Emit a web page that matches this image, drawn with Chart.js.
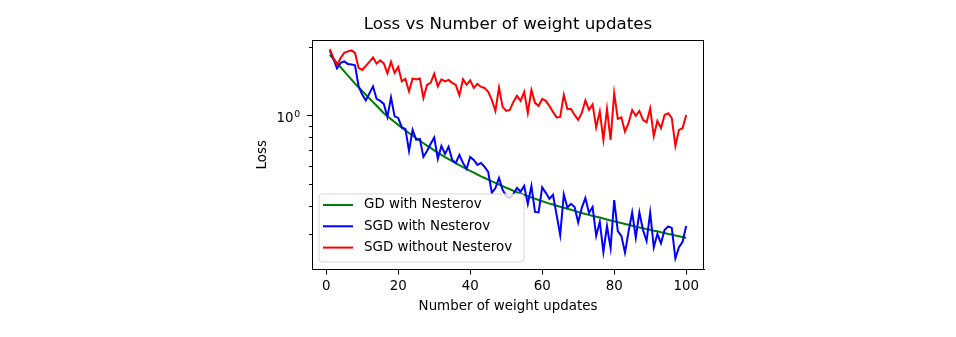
<!DOCTYPE html>
<html>
<head>
<meta charset="utf-8">
<script src="https://cdn.jsdelivr.net/npm/chart.js@4.4.1/dist/chart.umd.min.js"></script>
<style>
    html, body { margin: 0; padding: 0; background: #fff; }
    canvas { display: block; }
</style>
</head>
<body>
<canvas id="loss-chart" width="956" height="337"></canvas>
<script>
var chartTitle = 'Loss vs Number of weight updates';
var updates = Array.from({ length: 100 }, function (_, i) { return i + 1 });

var gdNesterov = [
    1.840, 1.766, 1.694, 1.625, 1.559, 1.496, 1.435, 1.377, 1.326, 1.277,
    1.230, 1.185, 1.142, 1.100, 1.059, 1.020, 0.990, 0.961, 0.934, 0.907,
    0.882, 0.858, 0.835, 0.814, 0.792, 0.773, 0.753, 0.735, 0.718, 0.701,
    0.685, 0.670, 0.655, 0.641, 0.628, 0.615, 0.603, 0.592, 0.580, 0.569,
    0.559, 0.549, 0.539, 0.530, 0.521, 0.512, 0.504, 0.496, 0.488, 0.480,
    0.473, 0.466, 0.459, 0.453, 0.447, 0.441, 0.435, 0.430, 0.424, 0.419,
    0.414, 0.409, 0.405, 0.400, 0.396, 0.392, 0.388, 0.384, 0.380, 0.376,
    0.372, 0.368, 0.365, 0.361, 0.358, 0.355, 0.352, 0.348, 0.345, 0.342,
    0.339, 0.336, 0.333, 0.330, 0.327, 0.324, 0.321, 0.319, 0.316, 0.314,
    0.311, 0.309, 0.306, 0.304, 0.301, 0.299, 0.296, 0.294, 0.292, 0.289
];

var sgdNesterov = [
    1.917, 1.768, 1.606, 1.697, 1.723, 1.680, 1.672, 1.655, 1.339, 1.234,
    1.161, 1.247, 1.339, 1.179, 1.156, 1.121, 0.983, 1.197, 0.988, 0.973,
    0.884, 0.871, 0.697, 0.862, 0.779, 0.787, 0.656, 0.697, 0.748, 0.799,
    0.643, 0.733, 0.676, 0.726, 0.636, 0.617, 0.669, 0.617, 0.581, 0.656,
    0.636, 0.605, 0.617, 0.593, 0.563, 0.456, 0.479, 0.530, 0.470, 0.442,
    0.433, 0.451, 0.479, 0.462, 0.489, 0.408, 0.489, 0.376, 0.374, 0.482,
    0.456, 0.429, 0.447, 0.365, 0.298, 0.449, 0.393, 0.408, 0.395, 0.338,
    0.392, 0.433, 0.372, 0.395, 0.295, 0.340, 0.251, 0.326, 0.261, 0.424,
    0.310, 0.295, 0.249, 0.309, 0.374, 0.290, 0.374, 0.313, 0.280, 0.374,
    0.263, 0.301, 0.274, 0.313, 0.325, 0.320, 0.235, 0.263, 0.278, 0.326
];

var sgdPlain = [
    1.950, 1.785, 1.663, 1.785, 1.878, 1.907, 1.926, 1.878, 1.614, 1.581,
    1.647, 1.715, 1.795, 1.689, 1.741, 1.689, 1.527, 1.715, 1.534, 1.630,
    1.408, 1.444, 1.272, 1.451, 1.437, 1.451, 1.191, 1.359, 1.387, 1.519,
    1.339, 1.437, 1.408, 1.429, 1.387, 1.359, 1.222, 1.437, 1.359, 1.422,
    1.318, 1.372, 1.331, 1.318, 1.266, 1.167, 1.044, 1.325, 1.088, 1.044,
    1.055, 1.144, 1.216, 1.156, 1.266, 1.023, 1.292, 1.133, 1.099, 1.179,
    1.156, 1.099, 1.034, 0.978, 0.983, 1.228, 1.066, 1.066, 1.003, 0.954,
    1.023, 1.161, 1.055, 1.115, 0.884, 1.039, 0.779, 1.066, 0.779, 1.249,
    0.963, 0.978, 0.847, 0.925, 1.055, 0.993, 1.044, 0.954, 0.930, 1.071,
    0.811, 0.944, 0.877, 1.003, 1.020, 0.970, 0.733, 0.862, 0.877, 1.003
];

var yTicks = [0.3, 0.4, 0.5, 0.6, 0.7, 0.8, 0.9, 1, 2];
var font = { family: '"DejaVu Sans"', size: 13.4 };

function points(values) {
    return values.map(function (v, i) { return { x: updates[i], y: v } });
}

// frame, short log ticks, the 10^0 label, title and the boxed legend inside the axes
var decorPlugin = {
    id: 'decor',
    afterDraw: function (chart) {
        var ctx = chart.ctx, a = chart.chartArea, ys = chart.scales.y;
        ctx.save();
        ctx.strokeStyle = '#000';
        ctx.lineWidth = 1;
        ctx.strokeRect(Math.round(a.left) + 0.5, Math.round(a.top) + 0.5,
            Math.round(a.right - a.left) - 1, Math.round(a.bottom - a.top) - 1);
        yTicks.forEach(function (v) {
            var py = Math.round(ys.getPixelForValue(v)) + 0.5;
            var len = v === 1 ? 5 : 3;
            ctx.beginPath();
            ctx.moveTo(a.left, py);
            ctx.lineTo(a.left - len, py);
            ctx.stroke();
        });

        // decade label with a real superscript
        var oneY = ys.getPixelForValue(1);
        ctx.fillStyle = '#000';
        ctx.textBaseline = 'alphabetic';
        ctx.textAlign = 'right';
        ctx.font = font.size + 'px ' + font.family;
        ctx.fillText('10', a.left - 18.5, oneY + 7);
        ctx.textAlign = 'left';
        ctx.font = '9.4px ' + font.family;
        ctx.fillText('0', a.left - 17.8, oneY + 1.4);

        ctx.font = '16.7px "DejaVu Sans"';
        ctx.textAlign = 'center';
        ctx.textBaseline = 'middle';
        ctx.fillText(chartTitle, (a.left + a.right) / 2, 25);

        var bx = a.left + 7, bw = 205, bh = 68, by = a.bottom - 7.5 - bh, r = 3;
        ctx.beginPath();
        ctx.moveTo(bx + r, by);
        ctx.arcTo(bx + bw, by, bx + bw, by + bh, r);
        ctx.arcTo(bx + bw, by + bh, bx, by + bh, r);
        ctx.arcTo(bx, by + bh, bx, by, r);
        ctx.arcTo(bx, by, bx + bw, by, r);
        ctx.closePath();
        ctx.fillStyle = 'rgba(255,255,255,0.8)';
        ctx.fill();
        ctx.strokeStyle = 'rgba(204,204,204,0.8)';
        ctx.lineWidth = 1;
        ctx.stroke();

        ctx.font = font.size + 'px ' + font.family;
        ctx.textAlign = 'left';
        chart.data.datasets.forEach(function (ds, i) {
            var ry = by + 11 + i * 21.3;
            ctx.strokeStyle = ds.borderColor;
            ctx.lineWidth = 2;
            ctx.beginPath();
            ctx.moveTo(bx + 4, ry);
            ctx.lineTo(bx + 34, ry);
            ctx.stroke();
            ctx.fillStyle = '#000';
            ctx.fillText(ds.label, bx + 45, ry);
        });
        ctx.restore();
    }
};

var ctx = document.getElementById('loss-chart').getContext('2d');
var lossChart = new Chart(ctx, {
    type: 'line',
    data: {
        datasets: [
            { label: 'GD with Nesterov', data: points(gdNesterov), borderColor: '#008000', order: 3 },
            { label: 'SGD with Nesterov', data: points(sgdNesterov), borderColor: '#0000ff', order: 2 },
            { label: 'SGD without Nesterov', data: points(sgdPlain), borderColor: '#ff0000', order: 1 }
        ]
    },
    options: {
        responsive: false,
        animation: false,
        devicePixelRatio: 1,
        layout: { padding: { left: 252, right: 252, top: 40, bottom: 0 } },
        elements: {
            line: { borderWidth: 2, tension: 0, fill: false },
            point: { radius: 0 }
        },
        plugins: {
            legend: { display: false },
            title: { display: false },
            tooltip: { enabled: false }
        },
        scales: {
            x: {
                type: 'linear',
                min: -3.95,
                max: 104.95,
                ticks: { stepSize: 20, includeBounds: false, color: '#000', font: font, padding: 4, maxRotation: 0 },
                grid: { drawOnChartArea: false, drawTicks: true, tickLength: 5, color: '#000' },
                border: { display: true, color: '#000' },
                title: { display: true, text: 'Number of weight updates', color: '#000', font: font, padding: { top: 2, bottom: 22 } },
                afterFit: function (s) { s.height = 67.5 }
            },
            y: {
                type: 'logarithmic',
                min: 0.21,
                max: 2.14,
                afterBuildTicks: function (s) {
                    s.ticks = yTicks.map(function (v) { return { value: v, major: v === 1 } });
                },
                ticks: {
                    autoSkip: false,
                    color: '#000',
                    font: font,
                    padding: 5,
                    callback: function () { return '' }
                },
                grid: { display: false, drawTicks: true, tickLength: 5 },
                border: { display: true, color: '#000' },
                title: { display: true, text: 'Loss', color: '#000', font: font, padding: { top: 2, bottom: 0 } },
                afterFit: function (s) { s.width = 60 }
            }
        }
    },
    plugins: [decorPlugin]
});
</script>
</body>
</html>
